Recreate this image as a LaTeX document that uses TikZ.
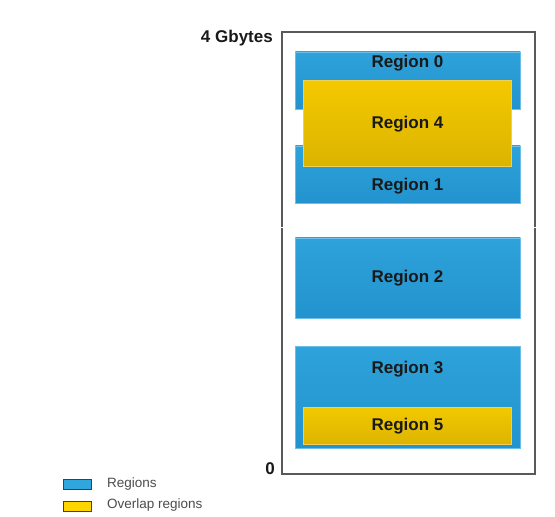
\documentclass[tikz,border=0pt]{standalone}
\usepackage{fontspec}
\setmainfont{Liberation Sans}
\begin{document}
\begin{tikzpicture}[x=1pt,y=-1pt,
  region/.style={draw=regedge,line width=0.6pt,top color=regtop,bottom color=regbot,inner sep=0pt,anchor=north west},
  overlap/.style={draw=ovedge,line width=0.6pt,top color=ovtop,bottom color=ovbot,inner sep=0pt,anchor=north west},
  lbl/.style={font=\bfseries\fontsize{17}{20}\selectfont,text=black!90,inner sep=0pt},
  legtext/.style={font=\fontsize{13.5}{15}\selectfont,text=black!70,anchor=west,inner sep=0pt},
  swatch/.style={draw=black!75,line width=0.8pt,minimum width=28pt,minimum height=10pt,inner sep=0pt,anchor=north west}]
\definecolor{regtop}{HTML}{2EA2DA}
\definecolor{regbot}{HTML}{2293CE}
\definecolor{regedge}{HTML}{6CBFE8}
\definecolor{ovtop}{HTML}{F3C900}
\definecolor{ovbot}{HTML}{DCB400}
\definecolor{ovedge}{HTML}{F0D050}
\definecolor{leg1}{HTML}{30A6DE}
\definecolor{leg2}{HTML}{FFD500}
\useasboundingbox (0,0) rectangle (555,517);
% outer memory map
\node[draw=black!65,line width=1.6pt,minimum width=253pt,minimum height=442pt,inner sep=0pt,anchor=north west] (mem) at (281,31) {};
\fill[white] (279,226.5) rectangle (536,228);
% regions
\node[region,minimum width=225pt,minimum height=57pt] (r0) at (295,51.5) {};
\node[region,minimum width=225pt,minimum height=57pt] (r1) at (295,145.5) {};
\node[overlap,minimum width=208pt,minimum height=86pt] (r4) at (303,80) {};
\node[region,minimum width=225pt,minimum height=80pt] (r2) at (295,237.5) {};
\node[region,minimum width=225pt,minimum height=102pt] (r3) at (295,346) {};
\node[overlap,minimum width=208.5pt,minimum height=37.5pt] (r5) at (302.8,406.8) {};
% labels
\node[lbl] (l0) at (407.5,63.5) {Region 0};
\node[lbl] (l4) at (407.5,124) {Region 4};
\node[lbl] (l1) at (407.5,186.5) {Region 1};
\node[lbl] (l2) at (407.5,278) {Region 2};
\node[lbl] (l3) at (407.5,369) {Region 3};
\node[lbl] (l5) at (407.5,426.5) {Region 5};
\node[lbl,anchor=east] (top) at (273,38) {4 Gbytes};
\node[lbl,anchor=east] (zero) at (275,468.5) {0};
% legend
\node[swatch,fill=leg1] (s1) at (63,479) {};
\node[swatch,fill=leg2] (s2) at (63,500.5) {};
\node[legtext] (t1) at (107,484.5) {Regions};
\node[legtext] (t2) at (107,505) {Overlap regions};
\end{tikzpicture}
\end{document}
